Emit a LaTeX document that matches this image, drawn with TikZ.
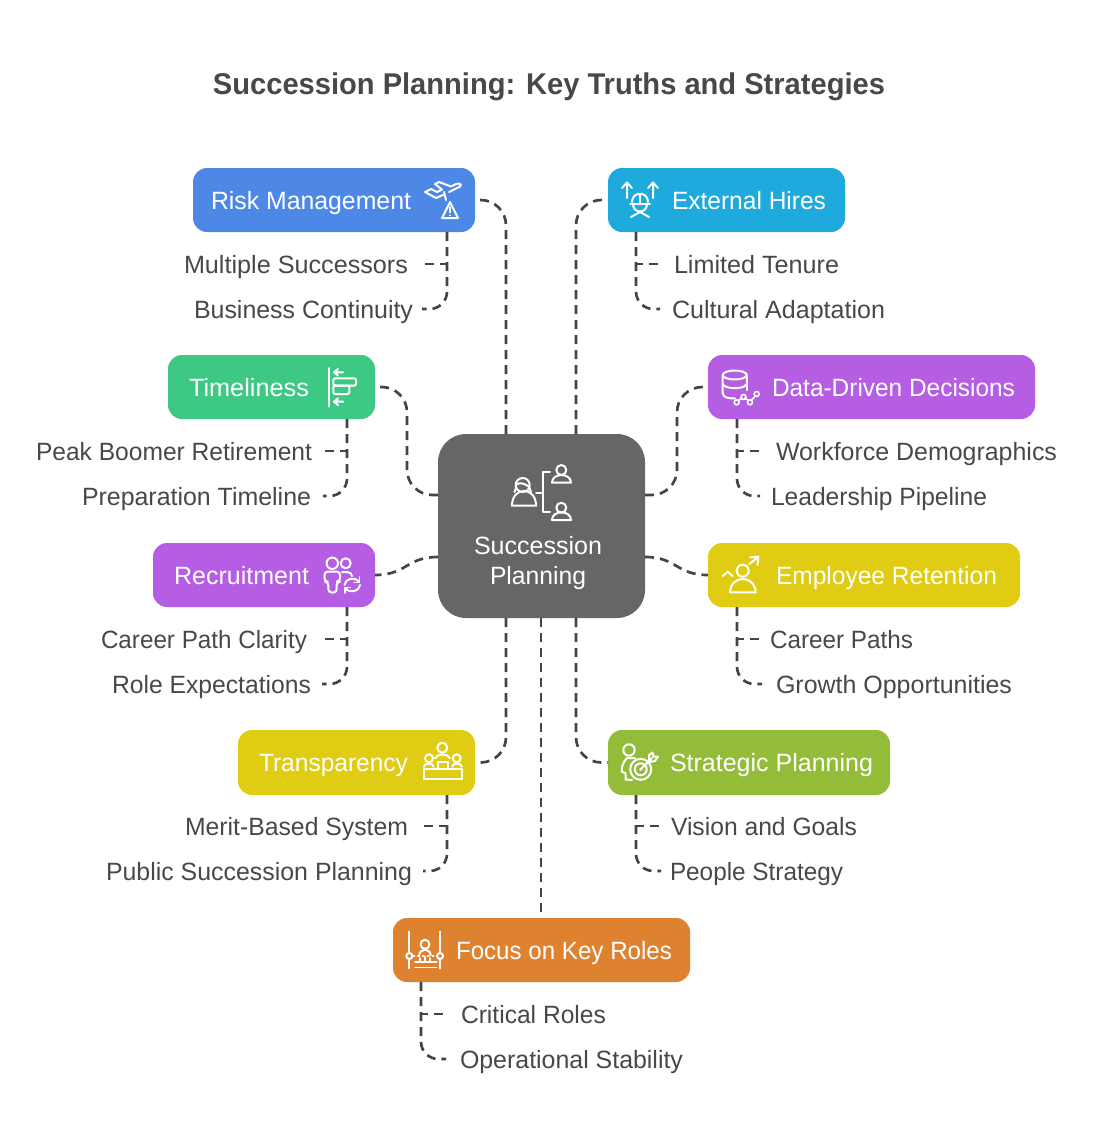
\documentclass[tikz,border=0pt]{standalone}
\usepackage{fontspec}
\usepackage{graphicx}
\setmainfont{Liberation Sans}
\usetikzlibrary{calc}
\definecolor{ink}{HTML}{484848}
\definecolor{linkc}{HTML}{444444}
\definecolor{cblue}{HTML}{4E88E7}
\definecolor{ccyan}{HTML}{1EAADC}
\definecolor{cgreen}{HTML}{3DC884}
\definecolor{cpurple}{HTML}{B55EE4}
\definecolor{cyellow}{HTML}{E0CC13}
\definecolor{colive}{HTML}{93BD39}
\definecolor{corange}{HTML}{DF8230}
\definecolor{cgrey}{HTML}{666666}
\newdimen\pxu \pxu=0.75pt
\newcommand{\fw}[2]{\resizebox{#1\pxu}{\height}{#2}}
\tikzset{
  x=0.75pt,y=-0.75pt,
  txt/.style={inner sep=0pt,outer sep=0pt,text height=16.5pt,text depth=3pt,font=\fontsize{18.75pt}{22.5pt}\selectfont},
  box/.style={txt,rounded corners=10.5pt,text=white},
  itemtxt/.style={txt,text=ink,anchor=base west},
  link/.style={draw=linkc,line width=2pt,dash pattern=on 6.75pt off 4.5pt},
  ic/.style={draw=white,line width=1.5pt,line cap=round,line join=round},
  icthin/.style={ic,line width=1.2pt},
}
% name x0 y0 x1 y1 colour textx0 textx1 text
\newcommand{\bx}[9]{\node[box,fill=#6,minimum width={(#4-#2)*0.75pt},minimum height={(#5-#3)*0.75pt}] (#1) at ({(#2+#4)/2},{(#3+#5)/2})
  {\makebox[\dimexpr#4\pxu-#2\pxu\relax][l]{\hspace*{\dimexpr#7\pxu-#2\pxu\relax}\resizebox{\dimexpr#8\pxu-#7\pxu\relax}{\height}{#9}}};}
% name x0 x1 baseline text
\newcommand{\itm}[5]{\node[itemtxt] (#1) at (#2,#4) {\resizebox{\dimexpr#3\pxu-#2\pxu\relax}{\height}{#5}};}
% person shoulders: x0 x1 base top
\newcommand{\shld}[4]{\draw[ic] (#1,#3) .. controls (#1,#4) and (#2,#4) .. (#2,#3) -- cycle;}
\begin{document}
\begin{tikzpicture}
\useasboundingbox (0,0) rectangle (1098,1136);
\fill[white] (0,0) rectangle (1098,1136);

\node[inner sep=0pt,text=ink,anchor=base,font=\fontsize{22.5pt}{27pt}\selectfont\bfseries] (title) at (549,94) {\fw{672}{Succession Planning: Key Truths and Strategies}};

% centre
\node[fill=cgrey,rounded corners=21pt,inner sep=0pt,minimum width={207*0.75pt},minimum height={184*0.75pt}] (ctr) at (541.5,526) {};
\node[inner sep=0pt,text=white,align=center,font=\fontsize{18.75pt}{22.5pt}\selectfont] (ctrlabel) at (538,563) {\fw{128}{Succession}\\\fw{96}{Planning}};

% boxes
\bx{rk}{193}{168}{475}{232}{cblue}{211}{411}{Risk Management}
\bx{ex}{608}{168}{845}{232}{ccyan}{672}{826}{External Hires}
\bx{tm}{168}{355}{375}{419}{cgreen}{189}{309}{Timeliness}
\bx{dd}{708}{355}{1035}{419}{cpurple}{772}{1015}{Data-Driven Decisions}
\bx{rc}{153}{543}{375}{607}{cpurple}{174}{309}{Recruitment}
\bx{er}{708}{543}{1020}{607}{cyellow}{776}{997}{Employee Retention}
\bx{tr}{238}{730}{475}{795}{cyellow}{259}{408}{Transparency}
\bx{sp}{608}{730}{890}{795}{colive}{670}{873}{Strategic Planning}
\bx{fk}{393}{918}{690}{982}{corange}{456}{672}{Focus on Key Roles}

% items
\itm{rk1}{184}{408}{273}{Multiple Successors}
\itm{rk2}{194}{413}{318}{Business Continuity}
\itm{ex1}{674}{839}{273}{Limited Tenure}
\itm{ex2}{672}{885}{318}{Cultural Adaptation}
\itm{tm1}{36}{312}{460}{Peak Boomer Retirement}
\itm{tm2}{82}{311}{505}{Preparation Timeline}
\itm{dd1}{776}{1057}{460}{Workforce Demographics}
\itm{dd2}{771}{987}{505}{Leadership Pipeline}
\itm{rc1}{101}{307}{648}{Career Path Clarity}
\itm{rc2}{112}{311}{693}{Role Expectations}
\itm{er1}{770}{913}{648}{Career Paths}
\itm{er2}{776}{1012}{693}{Growth Opportunities}
\itm{tr1}{185}{408}{835}{Merit-Based System}
\itm{tr2}{106}{412}{880}{Public Succession Planning}
\itm{sp1}{671}{857}{835}{Vision and Goals}
\itm{sp2}{670}{843}{880}{People Strategy}
\itm{fk1}{461}{606}{1023}{Critical Roles}
\itm{fk2}{460}{683}{1068}{Operational Stability}

% attachment points on the centre
\coordinate (cn1) at (506,434);
\coordinate (cn2) at (576,434);
\coordinate (cs1) at (506,618);
\coordinate (cs2) at (541,618);
\coordinate (cs3) at (576,618);
\coordinate (cw1) at (438,495);
\coordinate (cw2) at (438,557);
\coordinate (ce1) at (645,495);
\coordinate (ce2) at (645,557);

% main connectors
\draw[link,rounded corners=19pt] (cn1) |- (rk.east);
\draw[link,rounded corners=19pt] (cn2) |- (ex.west);
\draw[link,rounded corners=19pt] (cs1) |- (tr.east);
\draw[link,rounded corners=19pt] (cs3) |- (sp.west);
\draw[link] (cs2) -- (fk.north -| cs2);
\draw[link,rounded corners=19pt] (cw1) -| ($(tm.east)+(32,0)$) -- (tm.east);
\draw[link,rounded corners=19pt] (ce1) -| ($(dd.west)+(-31,0)$) -- (dd.west);
\draw[link] (cw2) .. controls ($(cw2)+(-32,0)$) and ($(rc.east)+(32,0)$) .. (rc.east);
\draw[link] (ce2) .. controls ($(ce2)+(32,0)$) and ($(er.west)+(-32,0)$) .. (er.west);

% item connectors
\coordinate (rkt) at (447,232);
\coordinate (ext) at (636,232);
\coordinate (tmt) at (347,419);
\coordinate (ddt) at (737,419);
\coordinate (rct) at (347,607);
\coordinate (ert) at (737,607);
\coordinate (trt) at (447,795);
\coordinate (spt) at (636,795);
\coordinate (fkt) at (421,982);
\tikzset{sub/.style={link,rounded corners=13pt}}
\draw[link,shorten >=12pt] (rkt) |- (rk1.east);
\draw[sub,shorten >=6.75pt] (rkt) |- (rk2.east);
\draw[link,shorten >=11.25pt] (ext) |- (ex1.west);
\draw[sub,shorten >=9pt] (ext) |- (ex2.west);
\draw[link,shorten >=9.75pt] (tmt) |- (tm1.east);
\draw[sub,shorten >=9pt] (tmt) |- (tm2.east);
\draw[link,shorten >=12pt] (ddt) |- (dd1.west);
\draw[sub,shorten >=8.25pt] (ddt) |- (dd2.west);
\draw[link,shorten >=13.5pt] (rct) |- (rc1.east);
\draw[sub,shorten >=8.25pt] (rct) |- (rc2.east);
\draw[link,shorten >=7.5pt] (ert) |- (er1.west);
\draw[sub,shorten >=10.5pt] (ert) |- (er2.west);
\draw[link,shorten >=12pt] (trt) |- (tr1.east);
\draw[sub,shorten >=8.25pt] (trt) |- (tr2.east);
\draw[link,shorten >=9pt] (spt) |- (sp1.west);
\draw[sub,shorten >=6.75pt] (spt) |- (sp2.west);
\draw[link,shorten >=12.75pt] (fkt) |- (fk1.west);
\draw[sub,shorten >=10.5pt] (fkt) |- (fk2.west);

% icon: centre
\draw[ic] (522.7,485) circle[radius=7];
\draw[ic] (516,485) .. controls (519,482) and (524,483) .. (529.5,487);
\draw[ic] (516,488) -- (514.5,492); \draw[ic] (529.5,488) -- (531,492);
\shld{512}{536}{505.7}{486}
\draw[ic] (536,492.7) -- (542.7,492.7);
\draw[ic] (550,471.7) -- (542.7,471.7) -- (542.7,512.3) -- (550,512.3);
\draw[ic] (561.3,470) circle[radius=5];
\shld{552}{571}{482.7}{472.5}
\draw[ic] (561.3,507.7) circle[radius=5];
\shld{552}{571}{520}{509.8}

% icon: risk
\draw[ic] (425,192) -- (431,189) -- (437,192) -- (442,189.5) -- (435,184) -- (439,182) -- (451,186.5) -- (456,184) .. controls (460,182.5) and (462,185) .. (460,186.5) -- (449,192);
\draw[ic] (425,192) -- (436,198) -- (443,195);
\draw[ic] (444,192) -- (446,200);
\draw[ic] (450,202) -- (458,218) -- (442,218) -- cycle;
\draw[icthin] (450,207) -- (450,212.5);
\fill[white] (450,215.3) circle[radius=1];

% icon: external
\draw[ic] (627,198) -- (627,182.5) (622,188) -- (627,182.5) -- (632,188);
\draw[ic] (653,198) -- (653,182.5) (648,188) -- (653,182.5) -- (658,188);
\draw[ic] (632,202) .. controls (632,191) and (648,191) .. (648,202);
\draw[ic] (630,203.5) -- (650,203.5);
\draw[icthin] (640,194.5) -- (640,203);
\draw[ic] (633,204) .. controls (633,214) and (647,214) .. (647,204);
\draw[ic] (631,217) -- (640,212) -- (649,217);

% icon: timeliness
\draw[ic] (329.3,368) -- (329.3,406.7);
\draw[ic] (343.3,372.3) -- (334,372.3) (338,369) -- (334,372.3) -- (338,375.6);
\draw[ic,rounded corners=1pt] (333.3,378.3) rectangle (356,385.5);
\draw[ic,rounded corners=1pt] (333.3,385.5) rectangle (349.3,394);
\draw[ic] (343.3,401.7) -- (334,401.7) (338,398.4) -- (334,401.7) -- (338,405);

% icon: data
\draw[ic] (734.7,375) ellipse[x radius=12,y radius=4.5];
\draw[ic] (722.7,375) -- (722.7,393) .. controls (722.7,398) and (730,398.5) .. (735,398.5);
\draw[ic] (746.7,375) -- (746.7,390);
\draw[ic] (722.7,384) .. controls (724,389) and (744,390) .. (746.7,384);
\draw[icthin] (738.5,400.5) -- (742,398) (745,398) -- (748.5,400.5) (751.5,400) -- (755,396.5);
\draw[icthin] (736.7,402.3) circle[radius=2.5] (743.5,397) circle[radius=2.5] (750,402.3) circle[radius=2.5] (756.7,394) circle[radius=2.5];

% icon: recruitment
\draw[ic] (332.3,563.3) circle[radius=5.7];
\draw[ic,rounded corners=2.5pt] (324.5,581.7) -- (324.5,571.5) -- (340,571.5) -- (340,581.7) -- (336.7,581.7) -- (336.7,592.5) -- (328.3,592.5) -- (328.3,581.7) -- cycle;
\draw[ic] (345.7,563.3) circle[radius=5];
\draw[ic] (342,572) -- (347,572) .. controls (350,572) and (352,574) .. (352,576);
\draw[ic] (344.5,585) .. controls (345,578.5) and (355,576) .. (359,582);
\draw[ic] (360,585) .. controls (359.5,591.5) and (349.5,594) .. (345.5,588);
\draw[icthin] (359.5,577) -- (359.5,582.5) -- (354,582.5);
\draw[icthin] (345,593) -- (345,587.5) -- (350.5,587.5);

% icon: employee
\draw[ic] (742.7,570.7) circle[radius=6];
\draw[ic] (730,592.3) .. controls (731,574.5) and (754.7,574.5) .. (755.7,592.3) -- cycle;
\draw[ic] (722.7,576) -- (727.7,571.7) -- (732.7,576);
\draw[ic] (749.3,564) -- (758.3,556.7);
\draw[ic] (750,557.3) -- (758.3,556.7) -- (757.5,565);

% icon: transparency
\draw[ic] (424,769.3) rectangle (462,779.3);
\draw[ic] (437.7,769.3) -- (437.7,761.7) -- (447.7,761.7) -- (447.7,769.3);
\draw[ic] (442.3,747.7) circle[radius=5];
\draw[ic] (435,758.5) .. controls (437,753) and (448,753) .. (450,758.5);
\draw[ic] (429,758.3) circle[radius=4];
\draw[ic] (424,766.7) .. controls (424,762.5) and (433.5,762.5) .. (433.5,766.7);
\draw[ic] (456.7,758.3) circle[radius=4];
\draw[ic] (452.3,766.7) .. controls (452.3,762.5) and (461.7,762.5) .. (461.7,766.7);

% icon: strategic
\draw[ic] (629,750) circle[radius=5.7];
\draw[ic] (635,758) -- (627,758) .. controls (623,762) and (621,768) .. (622,772) -- (625.5,773) -- (625.5,779.5) -- (632,780);
\draw[ic] (640.7,769.3) circle[radius=10.5] (640.7,769.3) circle[radius=6];
\fill[white] (640.7,769.3) circle[radius=1.6];
\draw[ic] (640.7,769.3) -- (652,758);
\draw[ic] (649,762) -- (649,755) -- (652.5,752.5) -- (653.5,756.5) -- (658,756.5) -- (655,761) -- (649,762);

% icon: focus
\draw[ic] (409.3,931.7) -- (409.3,953) (409.3,959) -- (409.3,968.3);
\draw[ic] (409.3,956) circle[radius=3];
\draw[ic] (440,931.7) -- (440,953) (440,959) -- (440,968.3);
\draw[ic] (440,956) circle[radius=3];
\draw[ic] (425,944.3) circle[radius=4.5];
\draw[ic] (419.3,955) .. controls (420,948) and (430,948) .. (430.7,955);
\draw[icthin,dash pattern=on 1.2pt off 2.4pt] (413,956) -- (436,956);
\draw[icthin] (425,957) -- (425,961) (420,958) -- (420,961) (430,958) -- (430,961);
\draw[icthin] (415,961.7) -- (436.7,961.7);
\draw[icthin] (415,967.3) -- (436.7,967.3);
\end{tikzpicture}
\end{document}
